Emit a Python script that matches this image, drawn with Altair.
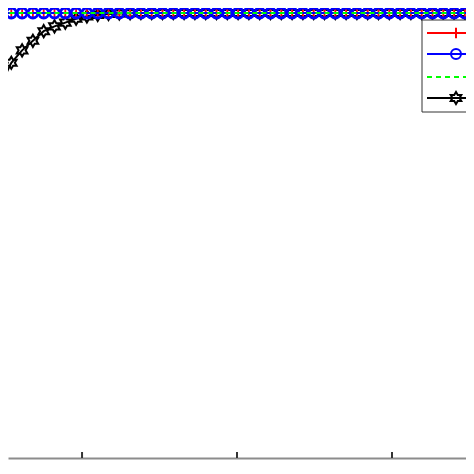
import math
import altair as alt
import pandas as pd

# ---------------- data ----------------
series_names = ["Series 1", "Series 2", "Series 3", "Series 4"]
series_colors = ["#ff0000", "#0000ff", "#00ff00", "#000000"]

iterations = [0, 1, 2, 3, 4, 5, 6, 7, 8, 9, 10, 11, 12, 13, 14, 15, 16, 17, 18, 19, 20, 21,
              22, 23, 24, 25, 26, 27, 28, 29, 30, 31, 32, 33, 34, 35, 36, 37, 38, 39, 40,
              41, 42, 43, 44]

red_values = [1.0, 1.0, 1.0, 1.0, 1.0, 1.0, 1.0, 1.0, 1.0, 1.0, 1.0, 1.0, 1.0, 1.0, 1.0,
              1.0, 1.0, 1.0, 1.0, 1.0, 1.0, 1.0, 1.0, 1.0, 1.0, 1.0, 1.0, 1.0, 1.0, 1.0,
              1.0, 1.0, 1.0, 1.0, 1.0, 1.0, 1.0, 1.0, 1.0, 1.0, 1.0, 1.0, 1.0, 1.0, 1.0]
blue_values = [1.0, 1.0, 1.0, 1.0, 1.0, 1.0, 1.0, 1.0, 1.0, 1.0, 1.0, 1.0, 1.0, 1.0, 1.0,
               1.0, 1.0, 1.0, 1.0, 1.0, 1.0, 1.0, 1.0, 1.0, 1.0, 1.0, 1.0, 1.0, 1.0, 1.0,
               1.0, 1.0, 1.0, 1.0, 1.0, 1.0, 1.0, 1.0, 1.0, 1.0, 1.0, 1.0, 1.0, 1.0, 1.0]
green_values = [1.0, 1.0, 1.0, 1.0, 1.0, 1.0, 1.0, 1.0, 1.0, 1.0, 1.0, 1.0, 1.0, 1.0, 1.0,
                1.0, 1.0, 1.0, 1.0, 1.0, 1.0, 1.0, 1.0, 1.0, 1.0, 1.0, 1.0, 1.0, 1.0, 1.0,
                1.0, 1.0, 1.0, 1.0, 1.0, 1.0, 1.0, 1.0, 1.0, 1.0, 1.0, 1.0, 1.0, 1.0, 1.0]
black_values = [0.8366, 0.8882, 0.9161, 0.9376, 0.9591, 0.9699, 0.9785, 0.9871, 0.9925,
                0.9957, 0.9978, 0.9989, 0.9995, 1.0, 1.0, 1.0, 1.0, 1.0, 1.0, 1.0, 1.0,
                1.0, 1.0, 1.0, 1.0, 1.0, 1.0, 1.0, 1.0, 1.0, 1.0, 1.0, 1.0, 1.0, 1.0,
                1.0, 1.0, 1.0, 1.0, 1.0, 1.0, 1.0, 1.0, 1.0, 1.0]

x_tick_values = [7.55, 21.9, 36.25]

# ---------------- styles ----------------
W, H = 458, 450
x_domain = [0.6944, 43.102]
y_domain = [0, 1.01124]

plus_path = "M-1,0L1,0M0,-1L0,1"
hex_pts = []
for k in range(12):
    ang = math.radians(90 + k * 30)
    r = 1.0 if k % 2 == 0 else 1.0 / math.sqrt(3)
    hex_pts.append(f"{r * math.cos(ang):.3f},{-r * math.sin(ang):.3f}")
hexagram_path = "M" + "L".join(hex_pts) + "Z"

marker_shapes = [plus_path, "circle", None, hexagram_path]
marker_sizes = [110, 100, 0, 150]
marker_widths = [1.8, 3.0, 0, 2.0]
dashes = [None, None, [5, 4], None]
draw_order = [3, 0, 1, 2]  # black curve underneath the converged band


def xenc(field):
    return alt.X(
        f"{field}:Q",
        scale=alt.Scale(domain=x_domain, nice=False, zero=False),
        axis=alt.Axis(labels=False, ticks=False, grid=False, title=None,
                      domainColor="#8c8c8c", domainWidth=2),
    )


yenc = alt.Y("v:Q", scale=alt.Scale(domain=y_domain, nice=False, zero=False), axis=None)

all_values = [red_values, blue_values, green_values, black_values]

layers = []
for idx in draw_order:
    name, color, vals = series_names[idx], series_colors[idx], all_values[idx]
    shape, size, mw, dash = marker_shapes[idx], marker_sizes[idx], marker_widths[idx], dashes[idx]
    df = pd.DataFrame({"x": iterations, "v": vals, "series": name})
    line_kwargs = dict(color=color, strokeWidth=2, clip=True)
    if dash:
        line_kwargs["strokeDash"] = dash
    layers.append(alt.Chart(df).mark_line(**line_kwargs).encode(x=xenc("x"), y=yenc))
    if shape:
        layers.append(
            alt.Chart(df).mark_point(shape=shape, filled=False, stroke=color, strokeWidth=mw,
                                     size=size, opacity=1, clip=True)
            .encode(x=xenc("x"), y=yenc)
        )

# inward tick marks on the bottom axis
ticks_df = pd.DataFrame({"t": x_tick_values})
layers.append(
    alt.Chart(ticks_df).mark_rule(color="#333333", strokeWidth=2)
    .encode(x=xenc("t"), y=alt.value(H - 6), y2=alt.value(H))
)

# legend (box, line samples and markers; labels fall outside the visible area)
box_df = pd.DataFrame({"a": [0]})
layers.append(
    alt.Chart(box_df).mark_rect(fill="white", stroke="#333333", strokeWidth=1)
    .encode(x=alt.value(414), x2=alt.value(480), y=alt.value(12), y2=alt.value(104))
)
legend_y = [25, 46, 69, 90]
for name, color, shape, size, dash, ly in zip(series_names, series_colors, marker_shapes,
                                              marker_sizes, dashes, legend_y):
    ldf = pd.DataFrame({"series": [name]})
    rk = dict(color=color, strokeWidth=2)
    if dash:
        rk["strokeDash"] = dash
    layers.append(
        alt.Chart(ldf).mark_rule(**rk)
        .encode(x=alt.value(419), x2=alt.value(480), y=alt.value(ly))
    )
    if shape:
        layers.append(
            alt.Chart(ldf).mark_point(shape=shape, filled=False, stroke=color, strokeWidth=2,
                                      size=size, opacity=1)
            .encode(x=alt.value(448), y=alt.value(ly))
        )

chart = (
    alt.layer(*layers)
    .properties(width=W, height=H,
                padding={"left": 0, "top": 0, "right": 0, "bottom": 2},
                autosize=alt.AutoSizeParams(type="none"))
    .configure_view(stroke=None)
)

chart.save("out.html", embed_options={"renderer": "svg", "actions": False})
